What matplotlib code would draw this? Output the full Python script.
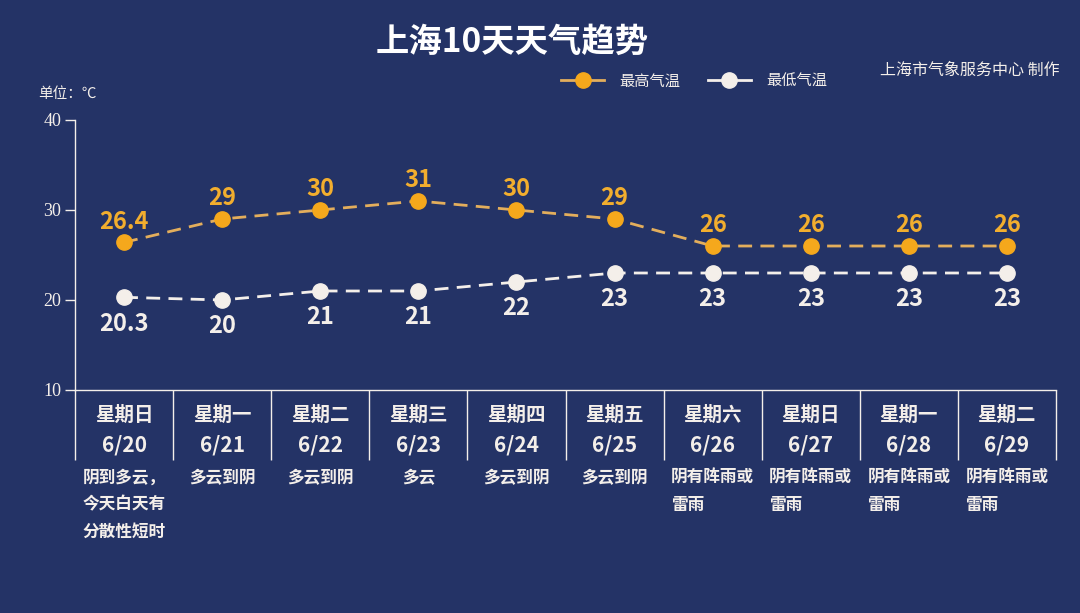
import matplotlib
matplotlib.use("Agg")
import matplotlib.pyplot as plt
from matplotlib.lines import Line2D

plt.rcParams['font.family'] = ['Noto Sans CJK SC', 'DejaVu Sans']

# ---- data ----
weekdays = ["星期日", "星期一", "星期二", "星期三", "星期四", "星期五", "星期六", "星期日", "星期一", "星期二"]
dates = ["6/20", "6/21", "6/22", "6/23", "6/24", "6/25", "6/26", "6/27", "6/28", "6/29"]
weather = ["阴到多云，\n今天白天有\n分散性短时", "多云到阴", "多云到阴", "多云", "多云到阴", "多云到阴",
           "阴有阵雨或\n雷雨", "阴有阵雨或\n雷雨", "阴有阵雨或\n雷雨", "阴有阵雨或\n雷雨"]
high = [26.4, 29, 30, 31, 30, 29, 26, 26, 26, 26]
low = [20.3, 20, 21, 21, 22, 23, 23, 23, 23, 23]
high_labels = ["26.4", "29", "30", "31", "30", "29", "26", "26", "26", "26"]
low_labels = ["20.3", "20", "21", "21", "22", "23", "23", "23", "23", "23"]
yticks = [10, 20, 30, 40]

BG = "#243366"
ORANGE = "#F5A81C"
ORANGE_LINE = "#E3AE5C"
ORANGE_TXT = "#F2AE2E"
WHITE = "#F4EFEA"

fig = plt.figure(figsize=(10.8, 6.13), dpi=100)
fig.patch.set_facecolor(BG)
W, H = 1080, 613
ax = fig.add_axes([75 / W, 1 - 390 / H, 981 / W, 270 / H])
ax.set_facecolor(BG)

x = list(range(len(dates)))
px = 1.0 / 9.0  # data units per pixel (y)

ax.plot(x, high, color=ORANGE_LINE, lw=2, linestyle=(0, (5, 3)), zorder=2)
ax.plot(x, high, linestyle='none', marker='o', ms=11, color=ORANGE, zorder=3)
ax.plot(x, low, color=WHITE, lw=2, linestyle=(0, (5, 3)), zorder=2)
ax.plot(x, low, linestyle='none', marker='o', ms=11, color=WHITE, zorder=3)

for xi, v, s in zip(x, high, high_labels):
    ax.annotate(s, (xi, v), xytext=(0, 15), textcoords='offset points', ha='center', va='center',
                color=ORANGE_TXT, fontsize=17, fontweight='bold')
for xi, v, s in zip(x, low, low_labels):
    ax.annotate(s, (xi, v), xytext=(0, -19), textcoords='offset points', ha='center', va='center',
                color=WHITE, fontsize=17, fontweight='bold')

ax.set_xlim(-0.5, len(dates) - 0.5)
ax.set_ylim(10, 40)
ax.set_yticks(yticks)
ax.set_yticklabels([str(t) for t in yticks], family='Liberation Serif', fontsize=13, color=WHITE)
ax.tick_params(axis='y', direction='out', length=7, width=1, color=WHITE, pad=3)
ax.set_xticks([])
for s in ['top', 'right']:
    ax.spines[s].set_visible(False)
for s in ['left', 'bottom']:
    ax.spines[s].set_color(WHITE)
    ax.spines[s].set_linewidth(1)

# table below
ax.vlines([i - 0.5 for i in range(len(dates) + 1)], 10 - 70 * px, 10, colors=WHITE, lw=1, clip_on=False)
for xi in x:
    ax.text(xi, 10 - 25 * px, weekdays[xi], ha='center', va='center', color=WHITE, fontsize=14,
            fontweight='bold', clip_on=False)
    ax.text(xi, 10 - 55 * px, dates[xi], ha='center', va='center', color=WHITE, fontsize=15,
            fontweight='bold', clip_on=False)
    ax.text(xi, 10 - 79 * px, weather[xi], ha='center', va='top', multialignment='left',
            color=WHITE, fontsize=12, fontweight='bold', linespacing=1.62, clip_on=False)

# titles / annotations
fig.text(512 / W, 1 - 42 / H, "上海10天天气趋势", ha='center', va='center', color='white',
         fontsize=24, fontweight='bold')
fig.text(38 / W, 1 - 94 / H, "单位：℃", ha='left', va='center', color=WHITE, fontsize=10.5)
fig.text(1060 / W, 1 - 70 / H, "上海市气象服务中心 制作", ha='right', va='center', color=WHITE, fontsize=11.5)

handles = [
    Line2D([], [], color=ORANGE_LINE, lw=2, marker='o', ms=11, markerfacecolor=ORANGE, markeredgecolor=ORANGE),
    Line2D([], [], color=WHITE, lw=2, marker='o', ms=11, markerfacecolor=WHITE, markeredgecolor=WHITE),
]
leg = fig.legend(handles, ["最高气温", "最低气温"], loc='center', bbox_to_anchor=(694 / W, 1 - 81 / H),
                 ncol=2, frameon=False, fontsize=11, handlelength=2.8, handletextpad=1.0,
                 columnspacing=1.8, labelcolor=WHITE)

fig.savefig("out.png", dpi=100, facecolor=BG)
